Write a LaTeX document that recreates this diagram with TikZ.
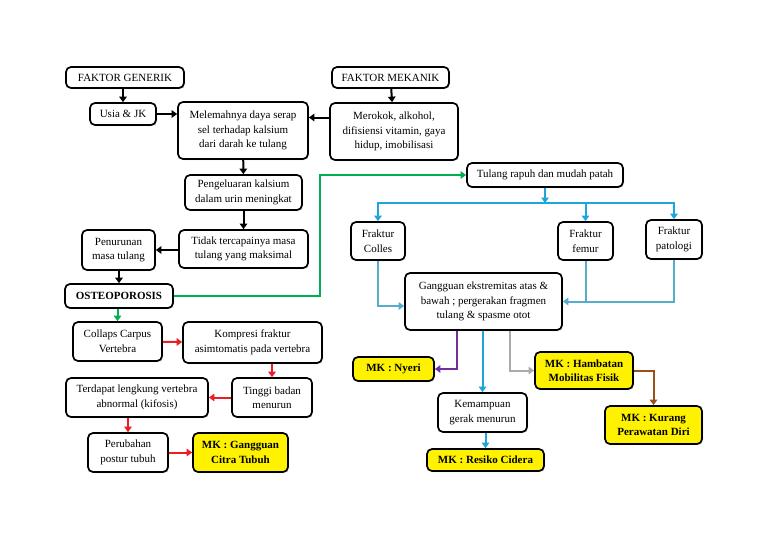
\documentclass[tikz,border=0pt]{standalone}
\usepackage{fontspec}
\setmainfont{Liberation Serif}
\usepackage{tikz}
\usetikzlibrary{arrows.meta,shadows}
\definecolor{hijau}{RGB}{0,176,80}
\definecolor{merah}{RGB}{235,30,35}
\definecolor{biru}{RGB}{30,165,220}
\definecolor{birumuda}{RGB}{85,172,205}
\definecolor{ungu}{RGB}{112,48,160}
\definecolor{abu}{RGB}{170,170,170}
\definecolor{coklat}{RGB}{155,80,25}
\tikzstyle{kotak} = [rectangle, rounded corners=5pt, draw=black, line width=1.7pt, fill=white, align=center, inner sep=1pt, font=\fontsize{11}{14.5}\selectfont, drop shadow={opacity=0.3, shadow xshift=1pt, shadow yshift=-1.2pt}]
\tikzstyle{kuning} = [kotak, fill=yellow, font=\fontsize{11}{14.5}\selectfont\bfseries]
\tikzstyle{panah} = [-{Triangle[length=5.5pt,width=7.5pt]}, line width=2pt]

\begin{document}
\begin{tikzpicture}[x=1pt,y=-1pt]
    \useasboundingbox (0,0) rectangle (768,543);

        % faktor penyebab
        \node (FG) [kotak, minimum width=118pt, minimum height=21pt] at (125,77.5) {FAKTOR GENERIK};
        \node (UJK) [kotak, minimum width=66pt, minimum height=22pt] at (123,114) {Usia \& JK};
        \node (MDS) [kotak, minimum width=130pt, minimum height=57pt] at (243,130.5) {Melemahnya daya serap\\sel terhadap kalsium\\dari darah ke tulang};
        \node (FM) [kotak, minimum width=117pt, minimum height=21pt] at (390.5,77.5) {FAKTOR MEKANIK};
        \node (MAV) [kotak, minimum width=128pt, minimum height=57pt] at (394,131.5) {Merokok, alkohol,\\difisiensi vitamin, gaya\\hidup, imobilisasi};
        \node (PK) [kotak, minimum width=117pt, minimum height=35pt] at (243.5,192.5) {Pengeluaran kalsium\\dalam urin meningkat};
        \node (TTM) [kotak, minimum width=129pt, minimum height=38pt] at (243.5,249) {Tidak tercapainya masa\\tulang yang maksimal};
        \node (PMT) [kotak, minimum width=73pt, minimum height=40pt] at (118.5,250) {Penurunan\\masa tulang};
        \node (OST) [kotak, minimum width=108pt, minimum height=24pt, font=\fontsize{11}{14.5}\selectfont\bfseries] at (119,296) {OSTEOPOROSIS};

        % cabang kiri
        \node (CCV) [kotak, minimum width=89pt, minimum height=39pt] at (117.5,341.5) {Collaps Carpus\\Vertebra};
        \node (KFA) [kotak, minimum width=139pt, minimum height=41pt] at (252.5,342.5) {Kompresi fraktur\\asimtomatis pada vertebra};
        \node (TBM) [kotak, minimum width=80pt, minimum height=39pt] at (272,397.5) {Tinggi badan\\menurun};
        \node (TLV) [kotak, minimum width=142pt, minimum height=39pt] at (137,397.5) {Terdapat lengkung vertebra\\abnormal (kifosis)};
        \node (PPT) [kotak, minimum width=80pt, minimum height=39pt] at (128,452.5) {Perubahan\\postur tubuh};
        \node (GCT) [kuning, minimum width=95pt, minimum height=39pt] at (240.5,452.5) {MK : Gangguan\\Citra Tubuh};

        % cabang kanan
        \node (TRP) [kotak, minimum width=156pt, minimum height=24pt] at (545,175) {Tulang rapuh dan mudah patah};
        \node (FC) [kotak, minimum width=54pt, minimum height=38pt] at (378,241) {Fraktur\\Colles};
        \node (FF) [kotak, minimum width=55pt, minimum height=38pt] at (585.5,241) {Fraktur\\femur};
        \node (FP) [kotak, minimum width=56pt, minimum height=39pt] at (674,239.5) {Fraktur\\patologi};
        \node (GEA) [kotak, minimum width=157pt, minimum height=57pt] at (483.5,301.5) {Gangguan ekstremitas atas \&\\bawah ; pergerakan fragmen\\tulang \& spasme otot};
        \node (NYR) [kuning, minimum width=81pt, minimum height=24pt] at (393.5,369) {MK : Nyeri};
        \node (KGM) [kotak, minimum width=89pt, minimum height=39pt] at (482.5,412.5) {Kemampuan\\gerak menurun};
        \node (RC) [kuning, minimum width=117pt, minimum height=22pt] at (485.5,460) {MK : Resiko Cidera};
        \node (HMF) [kuning, minimum width=98pt, minimum height=37pt] at (584,370.5) {MK : Hambatan\\Mobilitas Fisik};
        \node (KPD) [kuning, minimum width=97pt, minimum height=38pt] at (653.5,425) {MK : Kurang\\Perawatan Diri};

        \coordinate (belok) at (320,175);
        \coordinate (cabang) at (545,203);

        % panah hitam
        \draw[panah] (FG.south -| UJK) -- (UJK);
        \draw[panah] (UJK) -- (UJK -| MDS.west);
        \draw[panah] (FM) -- (MAV);
        \draw[panah] ([yshift=14pt]MAV.west) -- ([yshift=14pt]MAV.west -| MDS.east);
        \draw[panah] (MDS) -- (PK);
        \draw[panah] (PK) -- (TTM);
        \draw[panah] (TTM.west |- PMT) -- (PMT);
        \draw[panah] (PMT.south -| OST) -- (OST);

        % panah hijau
        \draw[panah, hijau] (OST.east) -| (belok) -- (TRP.west);
        \draw[panah, hijau] (OST.south -| CCV) -- (CCV);

        % panah merah
        \draw[panah, merah] (CCV) -- (KFA);
        \draw[panah, merah] (KFA.south -| TBM) -- (TBM);
        \draw[panah, merah] (TBM) -- (TLV);
        \draw[panah, merah] (TLV.south -| PPT) -- (PPT);
        \draw[panah, merah] (PPT) -- (GCT);

        % panah biru
        \draw[panah, biru] (TRP) -- (cabang);
        \draw[panah, biru] (cabang) -| (FC);
        \draw[panah, biru] (cabang) -| (FP);
        \draw[panah, biru] (FF |- cabang) -- (FF);
        \draw[panah, birumuda] (FC) |- ([yshift=-4.5pt]GEA.west);
        \draw[panah, birumuda] (FP) |- (GEA.east);
        \draw[line width=2pt, birumuda] (FF) -- (FF |- GEA.east);
        \draw[panah, ungu] ([xshift=-26.5pt]GEA.south) |- (NYR);
        \draw[panah, biru] (GEA.south -| KGM) -- (KGM);
        \draw[panah, biru] (KGM.south -| RC) -- (RC);
        \draw[panah, abu] ([xshift=26.5pt]GEA.south) |- (HMF.west);
        \draw[panah, coklat] (HMF) -| (KPD);

\end{tikzpicture}
\end{document}
